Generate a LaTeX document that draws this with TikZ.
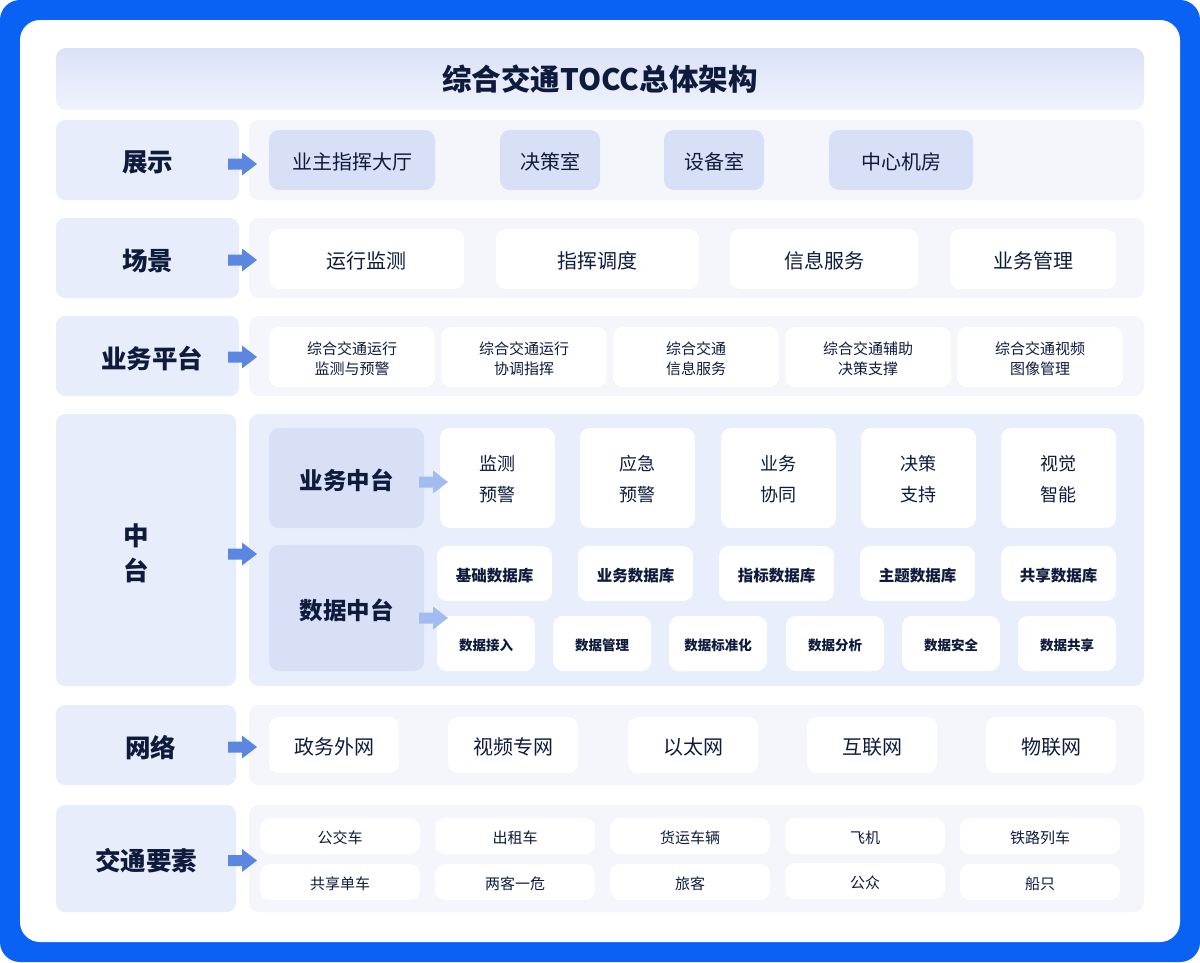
\documentclass[tikz,border=0pt]{standalone}
\usepackage{fontspec}
\setmainfont{Noto Sans CJK SC}
\usetikzlibrary{calc}
\definecolor{frameblue}{RGB}{10,98,245}
\definecolor{lboxc}{RGB}{231,237,251}
\definecolor{panelc}{RGB}{244,246,251}
\definecolor{panelb}{RGB}{232,238,251}
\definecolor{hlc}{RGB}{216,224,247}
\definecolor{txt}{RGB}{15,27,61}
\definecolor{arrowc}{RGB}{91,135,225}
\definecolor{arrowl}{RGB}{162,188,242}
\definecolor{titletop}{RGB}{219,226,248}
\definecolor{titlebot}{RGB}{240,243,253}
% [text offset x,y]{style}{name}{x1}{y1}{x2}{y2}{text}
\newcommand\bx[8][{0,2}]{%
 \pgfmathsetmacro\mybw{#6-#4}%
 \pgfmathsetmacro\mybh{#7-#5}%
 \pgfmathsetmacro\mycx{(#4+#6)/2}%
 \pgfmathsetmacro\mycy{(#5+#7)/2}%
 \node[#2,minimum width=\mybw pt,minimum height=\mybh pt] (#3) at (\mycx,\mycy) {};
 \node[#2,txtonly] (#3t) at ($(\mycx,\mycy)+(#1)$) {#8};}
\newcommand\barrow[2]{%
 \fill[#1] #2 ++(-14.5,-5.5) -- ++(14,0) -- ++(0,-6) -- ++(15,11.5) -- ++(-15,11.5) -- ++(0,-6) -- ++(-14,0) -- cycle;}
\begin{document}
\begin{tikzpicture}[x=1pt,y=-1pt,
 every node/.style={inner sep=0pt,outer sep=0pt,text=txt,align=center},
 txtonly/.style={fill=none,draw=none,minimum width=0pt,minimum height=0pt,rounded corners=0pt},
 lbox/.style={fill=lboxc,rounded corners=9pt,font=\bfseries\fontsize{25.5}{30}\selectfont},
 panel/.style={fill=panelc,rounded corners=10pt},
 panelB/.style={fill=panelb,rounded corners=10pt},
 hcard/.style={fill=hlc,rounded corners=10pt,font=\fontsize{20}{24}\selectfont},
 wcard/.style={fill=white,rounded corners=10pt,font=\fontsize{20}{24}\selectfont},
 pcard/.style={fill=white,rounded corners=10pt,font=\fontsize{15}{20}\selectfont},
 mcard/.style={fill=white,rounded corners=10pt,font=\fontsize{18}{31}\selectfont},
 dbcard/.style={fill=white,rounded corners=10pt,font=\bfseries\fontsize{15.5}{18}\selectfont},
 dtcard/.style={fill=white,rounded corners=10pt,font=\bfseries\fontsize{13.5}{16}\selectfont},
 tcard/.style={fill=white,rounded corners=10pt,font=\fontsize{15}{18}\selectfont},
 zbox/.style={fill=hlc,rounded corners=10pt,font=\bfseries\fontsize{23.5}{28}\selectfont}]
% background and frame
\fill[white] (0,0) rectangle (1200,962);
\useasboundingbox (0,0) rectangle (1200,962);
\fill[frameblue,rounded corners=20pt] (0,0) rectangle (1200,962);
\fill[white,rounded corners=20pt] (20,20) rectangle (1180,942);
% title
\node[rounded corners=10pt,top color=titletop,bottom color=titlebot,minimum width=1088pt,minimum height=62pt] (title) at (600,79) {};
\node[font=\bfseries\fontsize{29.5}{34}\selectfont] (titlet) at (600,79.5) {综合交通TOCC总体架构};
% row 1
\bx[{0,2.5}]{lbox}{L1}{56}{120}{239}{200}{展示}
\bx{panel}{P1}{249}{120}{1144}{200}{}
\bx{hcard}{A1}{269}{130}{435}{190}{业主指挥大厅}
\bx{hcard}{A2}{500}{130}{600}{190}{决策室}
\bx{hcard}{A3}{664}{130}{764}{190}{设备室}
\bx{hcard}{A4}{829}{130}{973}{190}{中心机房}
\barrow{arrowc}{($(L1.east)!0.5!(P1.west)+(-1.5,4)$)}
% row 2
\bx[{0,2.5}]{lbox}{L2}{56}{218}{239}{298}{场景}
\bx{panel}{P2}{249}{218}{1144}{298}{}
\bx{wcard}{B1}{269}{229}{464}{289}{运行监测}
\bx{wcard}{B2}{496}{229}{699}{289}{指挥调度}
\bx{wcard}{B3}{730}{229}{918}{289}{信息服务}
\bx{wcard}{B4}{950}{229}{1116}{289}{业务管理}
\barrow{arrowc}{($(L2.east)!0.5!(P2.west)+(-1.5,2)$)}
% row 3
\bx[{4.5,2.5}]{lbox}{L3}{56}{316}{239}{396}{业务平台}
\bx{panel}{P3}{249}{316}{1144}{396}{}
\bx{pcard}{C1}{269}{327}{435}{387}{综合交通运行\\监测与预警}
\bx{pcard}{C2}{441}{327}{607}{387}{综合交通运行\\协调指挥}
\bx{pcard}{C3}{613}{327}{779}{387}{综合交通\\信息服务}
\bx{pcard}{C4}{785}{327}{951}{387}{综合交通辅助\\决策支撑}
\bx{pcard}{C5}{957}{327}{1123}{387}{综合交通视频\\图像管理}
\barrow{arrowc}{($(L3.east)!0.5!(P3.west)+(-1.5,1)$)}
% row 4
\node[fill=lboxc,rounded corners=9pt,minimum width=180pt,minimum height=272pt] (L4) at (146,550) {};
\node[font=\bfseries\fontsize{25.5}{35}\selectfont] (mlab) at (136,553.5) {中\\台};
\bx{panelB}{P4}{249}{414}{1144}{686}{}
\barrow{arrowc}{($(L4.east)!0.5!(P4.west)+(0,4)$)}
\bx{zbox}{BZ}{269}{428}{424}{528}{业务中台}
\bx{zbox}{DZ}{269}{545}{424}{671}{数据中台}
\bx[{0,1}]{mcard}{M1}{440}{428}{555}{528}{监测\\预警}
\bx[{0,1}]{mcard}{M2}{580}{428}{695}{528}{应急\\预警}
\bx[{0,1}]{mcard}{M3}{721}{428}{836}{528}{业务\\协同}
\bx[{0,1}]{mcard}{M4}{861}{428}{976}{528}{决策\\支持}
\bx[{0,1}]{mcard}{M5}{1001}{428}{1116}{528}{视觉\\智能}
\bx{dbcard}{D1}{437}{546}{552}{601}{基础数据库}
\bx{dbcard}{D2}{578}{546}{693}{601}{业务数据库}
\bx{dbcard}{D3}{719}{546}{834}{601}{指标数据库}
\bx{dbcard}{D4}{860}{546}{975}{601}{主题数据库}
\bx{dbcard}{D5}{1001}{546}{1116}{601}{共享数据库}
\bx[{0,1.5}]{dtcard}{E1}{437}{616}{535}{671}{数据接入}
\bx[{0,1.5}]{dtcard}{E2}{553}{616}{651}{671}{数据管理}
\bx[{0,1.5}]{dtcard}{E3}{669}{616}{767}{671}{数据标准化}
\bx[{0,1.5}]{dtcard}{E4}{786}{616}{884}{671}{数据分析}
\bx[{0,1.5}]{dtcard}{E5}{902}{616}{1000}{671}{数据安全}
\bx[{0,1.5}]{dtcard}{E6}{1018}{616}{1116}{671}{数据共享}
\barrow{arrowl}{($(BZ.east)!0.5!(M1.west)+(1.5,4)$)}
\barrow{arrowl}{($(DZ.east)+(9.5,10)$)}
% row 5
\bx[{4.5,2.5}]{lbox}{L5}{56}{705}{236}{785}{网络}
\bx{panel}{P5}{249}{705}{1144}{785}{}
\bx{wcard}{N1}{269}{717}{399}{773}{政务外网}
\bx{wcard}{N2}{448}{717}{578}{773}{视频专网}
\bx{wcard}{N3}{628}{717}{758}{773}{以太网}
\bx{wcard}{N4}{807}{717}{937}{773}{互联网}
\bx{wcard}{N5}{986}{717}{1116}{773}{物联网}
\barrow{arrowc}{($(L5.east)!0.5!(P5.west)+(0,2)$)}
% row 6
\bx[{0,2.5}]{lbox}{L6}{56}{805}{236}{912}{交通要素}
\bx{panel}{P6}{249}{805}{1144}{912}{}
\bx[{0,1.5}]{tcard}{T1}{260}{818}{420}{854}{公交车}
\bx[{0,1.5}]{tcard}{T2}{435}{818}{595}{854}{出租车}
\bx[{0,1.5}]{tcard}{T3}{610}{818}{770}{854}{货运车辆}
\bx[{0,1.5}]{tcard}{T4}{785}{818}{945}{854}{飞机}
\bx[{0,1.5}]{tcard}{T5}{960}{818}{1120}{854}{铁路列车}
\bx[{0,1.5}]{tcard}{U1}{260}{864}{420}{900}{共享单车}
\bx[{0,1.5}]{tcard}{U2}{435}{864}{595}{900}{两客一危}
\bx[{0,1.5}]{tcard}{U3}{610}{864}{770}{900}{旅客}
\bx[{0,1.5}]{tcard}{U4}{785}{863}{945}{899}{公众}
\bx[{0,1.5}]{tcard}{U5}{960}{864}{1120}{900}{船只}
\barrow{arrowc}{($(L6.east)!0.5!(P6.west)+(0,2)$)}
\end{tikzpicture}
\end{document}
